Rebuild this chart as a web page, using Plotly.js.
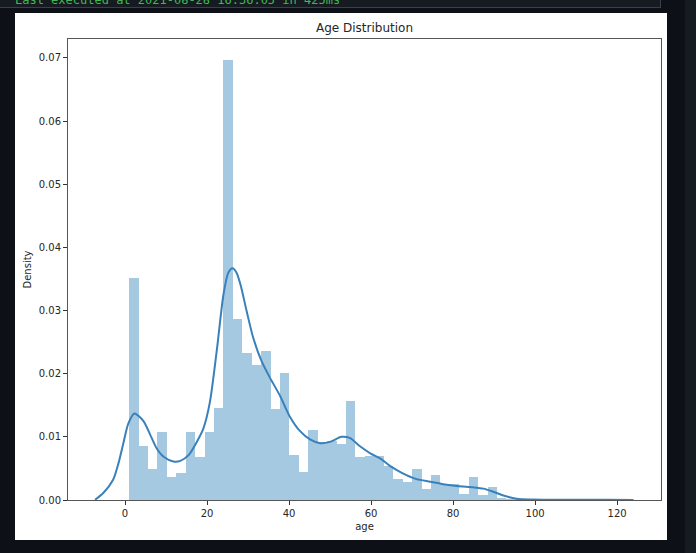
<!DOCTYPE html>
<html>
<head>
<meta charset="utf-8">
<script src="https://cdn.plot.ly/plotly-3.0.1.min.js"></script>
<style>
  html, body { margin: 0; padding: 0; width: 696px; height: 553px; overflow: hidden; background: #0d1117; }
  #topbar { position: absolute; left: 0; top: -10px; width: 660px; height: 17px; background: #161b22;
            border-bottom: 1px solid #3b4048; border-right: 1px solid #3b4048; }
  #topbar span { position: absolute; left: 15px; top: 3px; font-family: "DejaVu Sans Mono", monospace;
                 font-size: 12px; color: #3fb950; white-space: pre; }
  #rightstrip { position: absolute; left: 685px; top: 0; width: 11px; height: 553px; background: #161b22; }
  #panel { position: absolute; left: 15px; top: 13px; width: 652px; height: 527px; background: #ffffff; }
</style>
</head>
<body>
<div id="topbar"><span>Last executed at 2021-08-28 16:36:05 in 425ms</span></div>
<div id="rightstrip"></div>
<div id="panel"></div>
<script>
// Histogram bins (left edges, width) and density heights
const binWidth = 2.3;
const binLeft = [1.0, 3.3, 5.6, 7.9, 10.2, 12.5, 14.8, 17.1, 19.4, 21.7,
                 24.0, 26.3, 28.6, 30.9, 33.2, 35.5, 37.8, 40.1, 42.4, 44.7,
                 47.0, 49.3, 51.6, 53.9, 56.2, 58.5, 60.8, 63.1, 65.4, 67.7,
                 70.0, 72.3, 74.6, 76.9, 79.2, 81.5, 83.8, 86.1, 88.4, 90.7,
                 93.0, 95.3, 97.6, 99.9, 102.2, 104.5, 106.8, 109.1, 111.4, 113.7];
const histDensity = [0.0352, 0.0086, 0.0049, 0.0108, 0.0037, 0.0043, 0.0108, 0.0068, 0.0108, 0.0145,
                     0.0696, 0.0286, 0.0233, 0.0214, 0.0236, 0.0144, 0.0201, 0.0071, 0.0045, 0.0111,
                     0.0092, 0.0093, 0.0089, 0.0157, 0.0068, 0.0070, 0.0069, 0.0054, 0.0033, 0.0029,
                     0.0049, 0.0018, 0.0040, 0.0025, 0.0026, 0.0010, 0.0036, 0.0008, 0.0021, 0.0003,
                     0.0002, 0.0001, 0.0001, 0.00005, 0.00003, 0.00002, 0.00003, 0.00002, 0.00001, 0.00003];

// KDE curve points
const kdeAge = [-7.3, -5.3, -2.9, -1.6, -0.4, 0.8, 2.3, 4.5, 6.1, 7.7, 9.5, 11.8, 13.5, 15.5, 17.5,
                19.1, 20.7, 22.4, 24.0, 25.2, 26.2, 27.2, 28.2, 29.7, 31.3, 33.3, 35.4, 37.8, 40.2,
                42.7, 45.1, 47.6, 50.0, 52.8, 54.9, 57.3, 59.8, 62.2, 64.6, 67.5, 71.1, 74.4, 77.6,
                80.9, 85.0, 87.4, 89.8, 92.3, 95.5, 99.0, 105.0, 112.0, 118.0, 124.0];
const kdeDensity = [0.00003, 0.0011, 0.0032, 0.0058, 0.0090, 0.0121, 0.0137, 0.0125, 0.0104, 0.0082,
                    0.0068, 0.0061, 0.0062, 0.0071, 0.0092, 0.0113, 0.0155, 0.0238, 0.0325, 0.0360,
                    0.0367, 0.0360, 0.0340, 0.0298, 0.0256, 0.0220, 0.0193, 0.0165, 0.0132, 0.0109,
                    0.0096, 0.0090, 0.0092, 0.0100, 0.0098, 0.0085, 0.0074, 0.0066, 0.0054, 0.0043,
                    0.0033, 0.0029, 0.0025, 0.0022, 0.0020, 0.0018, 0.0013, 0.0007, 0.0002, 0.00008,
                    0.00005, 0.00004, 0.00003, 0.00001];

const xTicks = [0, 20, 40, 60, 80, 100, 120];
const yTicks = [0, 0.01, 0.02, 0.03, 0.04, 0.05, 0.06, 0.07];
const yTickText = ["0.00", "0.01", "0.02", "0.03", "0.04", "0.05", "0.06", "0.07"];

const font = "DejaVu Sans, sans-serif";

const traces = [
  {
    type: "bar",
    x: binLeft,
    y: histDensity,
    width: binWidth,
    offset: 0,
    marker: { color: "rgba(31,119,180,0.40)", line: { width: 0 } },
    hoverinfo: "x+y"
  },
  {
    type: "scatter",
    mode: "lines",
    x: kdeAge,
    y: kdeDensity,
    line: { color: "#3a80ba", width: 2, shape: "spline", smoothing: 0.7 },
    hoverinfo: "x+y"
  }
];

const layout = {
  width: 652,
  height: 527,
  paper_bgcolor: "#ffffff",
  plot_bgcolor: "#ffffff",
  showlegend: false,
  margin: { l: 53, r: 6, t: 26, b: 40, pad: 0 },
  bargap: 0,
  font: { family: font, size: 10, color: "#262626" },
  title: {
    text: "Age Distribution",
    font: { family: font, size: 12, color: "#262626" },
    x: 0.5, xref: "paper",
    y: 1 - 15 / 527, yref: "container", yanchor: "middle"
  },
  xaxis: {
    range: [-13.9, 130.7],
    tickvals: xTicks,
    ticks: "outside", ticklen: 4, tickwidth: 1, tickcolor: "#333333",
    showgrid: false, zeroline: false,
    showline: true, mirror: true, linecolor: "#555555", linewidth: 1,
    tickfont: { family: font, size: 10, color: "#262626" },
    title: { text: "age", font: { family: font, size: 10, color: "#262626" }, standoff: 4 }
  },
  yaxis: {
    range: [0, 0.0730],
    tickvals: yTicks,
    ticktext: yTickText,
    ticks: "outside", ticklen: 4, tickwidth: 1, tickcolor: "#333333",
    showgrid: false, zeroline: false,
    showline: true, mirror: true, linecolor: "#555555", linewidth: 1,
    tickfont: { family: font, size: 10, color: "#262626" },
    title: { text: "Density", font: { family: font, size: 10, color: "#262626" }, standoff: 5 }
  }
};

Plotly.newPlot("panel", traces, layout, { displayModeBar: false, staticPlot: true });
</script>
</body>
</html>
